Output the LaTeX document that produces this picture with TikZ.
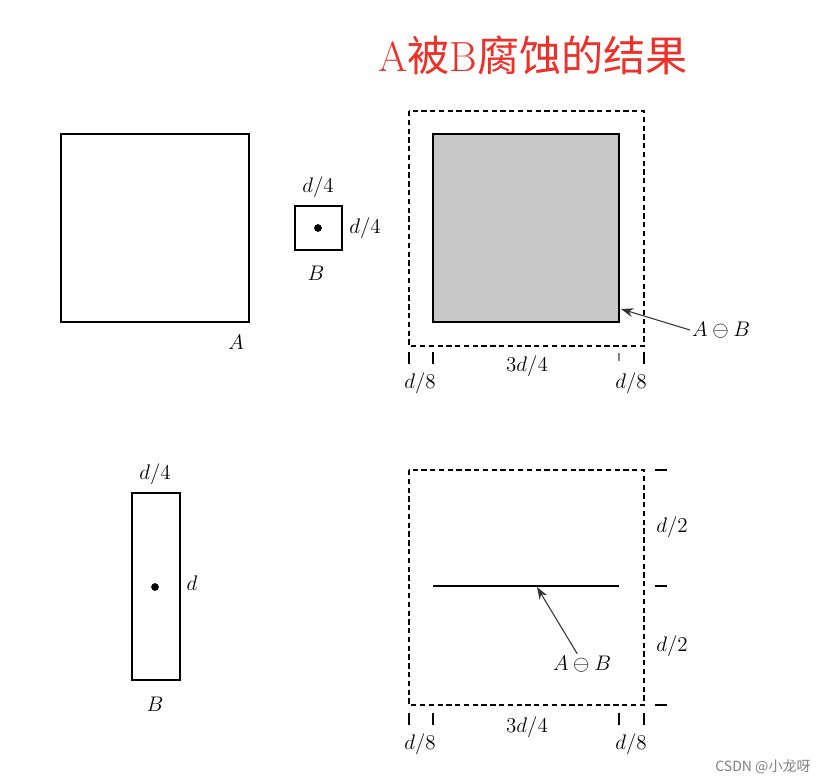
\documentclass[tikz,border=0pt]{standalone}
\usepackage{fontspec}
\newfontfamily\cjk{Noto Sans CJK SC}
\usepackage{tikz}
\usetikzlibrary{arrows.meta}

\definecolor{titlered}{RGB}{238,48,40}

\tikzset{
  solidline/.style={line width=1pt},
  dashline/.style={line width=1.1pt, dash pattern=on 3pt off 2pt},
  tickline/.style={line width=0.9pt},
  dimlabel/.style={font=\fontsize{12}{14}\selectfont, inner sep=1pt},
  pointer/.style={-{Stealth[length=7pt, width=5pt]}, line width=0.6pt, color=black!80},
}

\begin{document}
\begin{tikzpicture}[x=0.02cm, y=-0.02cm]
  \useasboundingbox (0,0) rectangle (825,784);

  % Title.
  \node[color=titlered, font=\fontsize{24}{28}\selectfont] (title) at (533,55)
    {A{\cjk 被}B{\cjk 腐蚀的结果}};

  % Square A and the small square B.
  \draw[solidline] (61,134) rectangle (249,322);
  \node[dimlabel] (labA) at (236,342) {$A$};

  \draw[solidline] (295,206) rectangle (342,250);
  \fill[black] (318,228) circle (2.2pt);
  \node[dimlabel] (topB) at (318,187) {$d/4$};
  \node[dimlabel] (sideB) at (365,228) {$d/4$};
  \node[dimlabel] (labB) at (316,273) {$B$};

  % Top result: dashed outline and gray square.
  \draw[dashline] (409,111) rectangle (644,346);
  \filldraw[solidline, fill=black!22] (433,134) rectangle (619,322);
  \coordinate (hitTop) at (621,309);
  \node[dimlabel, anchor=west] (lblTop) at (690,330) {$A\ominus B$};
  \draw[pointer] (lblTop.west) -- (hitTop);

  % Ticks under the top result.
  \draw[tickline] (409,352) -- (409,364);
  \draw[tickline] (433,352) -- (433,364);
  \draw[tickline, color=gray] (619,353) -- (619,361);
  \draw[tickline] (644,352) -- (644,364);
  \node[dimlabel] (leftTop) at (420,383) {$d/8$};
  \node[dimlabel] (midTop) at (527,366) {$3d/4$};
  \node[dimlabel] (rightTop) at (631,383) {$d/8$};

  % Tall rectangle B.
  \draw[solidline] (132,493) rectangle (180,680);
  \fill[black] (155,587) circle (2.2pt);
  \node[dimlabel] (topTall) at (155,474) {$d/4$};
  \node[dimlabel] (sideTall) at (192,583) {$d$};
  \node[dimlabel] (labTall) at (155,704) {$B$};

  % Bottom result: dashed outline and a line.
  \draw[dashline] (409,470) rectangle (644,705);
  \draw[solidline] (433,586) -- (619,586);
  \coordinate (hitBot) at (537,587);
  \node[dimlabel] (lblBot) at (582,664) {$A\ominus B$};
  \draw[pointer] (lblBot.115) -- (hitBot);

  % Ticks at the right side.
  \draw[tickline] (655,470) -- (667,470);
  \draw[tickline] (655,586) -- (667,586);
  \draw[tickline] (655,705) -- (667,705);
  \node[dimlabel] (upperHalf) at (672,527) {$d/2$};
  \node[dimlabel] (lowerHalf) at (672,646) {$d/2$};

  % Ticks under the bottom result.
  \draw[tickline] (409,713) -- (409,725);
  \draw[tickline] (433,713) -- (433,725);
  \draw[tickline] (619,713) -- (619,725);
  \draw[tickline] (644,713) -- (644,725);
  \node[dimlabel] (leftBot) at (420,744) {$d/8$};
  \node[dimlabel] (midBot) at (527,727) {$3d/4$};
  \node[dimlabel] (rightBot) at (631,744) {$d/8$};

  % Watermark.
  \node[color=gray, font=\cjk\fontsize{8}{10}\selectfont] (mark) at (763,767) {CSDN @小龙呀};

\end{tikzpicture}
\end{document}
